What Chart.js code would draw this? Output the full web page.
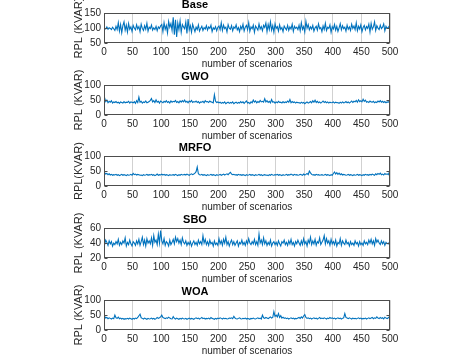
<!DOCTYPE html>
<html lang="en">
<head>
  <meta charset="UTF-8">
  <title>RPL per scenario</title>
  <script src="https://cdn.jsdelivr.net/npm/chart.js"></script>
  <style>
    body { margin: 0; background: #fff; }
    #wrap { position: relative; width: 474px; height: 361px; overflow: hidden; }
    .panel { position: absolute; left: 0; }
  </style>
</head>
<body>
  <div id="wrap"></div>

  <script>
    // one sample read every 2 scenarios (1, 3, 5 ... 499)
    const scenarioStep = 2;

    const baseRpl = [
      100, 97, 104, 96, 101, 99, 95, 103, 98, 92,
      106, 95, 118, 90, 112, 84, 108, 121, 93, 110,
      87, 115, 96, 104, 89, 109, 100, 94, 111, 97,
      105, 88, 113, 99, 92, 108, 96, 116, 90, 103,
      98, 110, 93, 101, 95, 106, 91, 104, 99, 108,
      112, 88, 118, 96, 109, 84, 122, 103, 115, 92,
      136, 78, 128, 70, 117, 95, 124, 86, 112, 104,
      98, 120, 82, 130, 94, 108, 86, 113, 100, 88,
      103, 95, 111, 90, 99, 106, 92, 102, 97, 108,
      93, 104, 99, 110, 88, 101, 96, 105, 91, 103,
      107, 95, 118, 92, 110, 98, 103, 87, 112, 100,
      96, 108, 91, 104, 99, 111, 94, 102, 88, 106,
      97, 113, 90, 103, 109, 95, 118, 89, 104, 98,
      110, 86, 107, 100, 93, 114, 97, 105, 91, 109,
      102, 117, 88, 112, 95, 121, 93, 108, 86, 114,
      99, 105, 90, 111, 96, 102, 88, 107, 100, 94,
      109, 92, 104, 97, 113, 89, 106, 99, 103, 95,
      110, 91, 118, 96, 105, 87, 123, 100, 112, 94,
      104, 97, 109, 90, 101, 106, 93, 114, 98, 102,
      88, 107, 95, 116, 92, 103, 99, 111, 86, 105,
      97, 112, 93, 106, 89, 101, 115, 94, 108, 98,
      103, 90, 110, 96, 104, 92, 113, 99, 107, 95,
      118, 91, 106, 97, 111, 88, 102, 109, 94, 105,
      99, 113, 87, 116, 96, 104, 121, 92, 108, 100,
      95, 110, 98, 103, 114, 91, 106, 99, 102, 108
    ];

    const gwoRpl = [
      58, 45, 50, 41, 46, 43, 48, 40, 44, 42,
      45, 41, 43, 39, 44, 42, 40, 45, 41, 43,
      42, 46, 40, 44, 43, 41, 45, 39, 48, 42,
      60, 43, 46, 40, 44, 42, 47, 41, 43, 45,
      49, 55, 44, 48, 42, 51, 43, 46, 40, 47,
      44, 41, 46, 43, 48, 42, 45, 40, 47, 43,
      46, 44, 49, 42, 45, 41, 47, 43, 48, 44,
      50, 43, 46, 41, 47, 44, 49, 42, 45, 43,
      47, 42, 45, 40, 44, 43, 46, 41, 48, 44,
      45, 42, 47, 44, 43, 41, 68, 46, 42, 44,
      41, 43, 39, 42, 40, 44, 38, 41, 43, 39,
      42, 40, 44, 38, 41, 43, 39, 42, 40, 45,
      41, 44, 39, 43, 47, 40, 42, 38, 44, 41,
      50, 43, 47, 41, 45, 42, 49, 44, 46, 43,
      55, 44, 48, 42, 46, 41, 52, 43, 45, 40,
      44, 41, 46, 42, 43, 40, 45, 41, 44, 42,
      47, 43, 52, 41, 45, 42, 44, 40, 43, 41,
      42, 39, 43, 40, 42, 38, 41, 44, 40, 42,
      45, 41, 48, 43, 50, 42, 46, 41, 44, 40,
      43, 47, 42, 45, 41, 44, 40, 43, 41, 42,
      44, 40, 43, 41, 42, 39, 43, 40, 44, 41,
      42, 45, 41, 44, 40, 43, 47, 42, 46, 44,
      49, 43, 51, 45, 48, 44, 53, 46, 50, 43,
      45, 42, 47, 44, 43, 46, 41, 44, 42, 47,
      44, 48, 43, 46, 42, 45, 41, 44, 43, 46
    ];

    const mrfoRpl = [
      45, 40, 42, 38, 41, 37, 39, 36, 38, 37,
      39, 36, 38, 35, 37, 39, 36, 38, 37, 35,
      38, 36, 37, 39, 36, 42, 38, 40, 37, 39,
      38, 36, 37, 35, 38, 36, 37, 39, 36, 38,
      37, 39, 36, 38, 35, 37, 40, 36, 38, 37,
      40, 37, 39, 36, 38, 37, 35, 38, 36, 37,
      38, 36, 39, 37, 35, 38, 36, 39, 37, 38,
      39, 37, 40, 38, 36, 39, 41, 38, 40, 43,
      48, 64, 41, 38, 37, 39, 36, 38, 37, 35,
      38, 36, 37, 39, 36, 38, 37, 35, 38, 36,
      37, 39, 36, 38, 40, 37, 39, 41, 38, 42,
      46, 40, 38, 39, 37, 38, 36, 39, 37, 38,
      36, 38, 37, 35, 38, 36, 37, 39, 36, 38,
      37, 35, 38, 36, 37, 39, 36, 38, 35, 37,
      38, 36, 37, 35, 38, 36, 39, 37, 36, 38,
      37, 39, 36, 38, 37, 35, 38, 36, 37, 39,
      36, 38, 37, 40, 38, 36, 39, 37, 38, 36,
      37, 39, 38, 36, 40, 37, 39, 42, 38, 50,
      44, 39, 37, 38, 36, 39, 37, 38, 36, 37,
      38, 36, 37, 39, 36, 38, 37, 35, 38, 36,
      42, 47, 40, 45, 39, 43, 38, 41, 37, 39,
      38, 36, 37, 39, 36, 38, 37, 35, 38, 36,
      37, 39, 36, 38, 37, 35, 38, 36, 39, 37,
      38, 36, 39, 37, 40, 38, 36, 41, 38, 42,
      39, 43, 38, 40, 37, 42, 39, 41, 38, 47
    ];

    const sboRpl = [
      38, 44, 41, 37, 43, 39, 42, 36, 40, 38,
      42, 39, 45, 37, 41, 38, 43, 40, 47, 36,
      41, 38, 44, 39, 36, 42, 40, 37, 43, 39,
      45, 37, 42, 48, 38, 44, 36, 46, 40, 43,
      39, 47, 37, 50, 41, 44, 38, 52, 40, 57,
      43, 39, 46, 37, 42, 40, 36, 44, 38, 41,
      45, 39, 48, 42, 46, 40, 44, 38, 47, 41,
      39, 43, 37, 41, 38, 42, 36, 40, 43, 38,
      41, 37, 44, 39, 42, 38, 50, 40, 45, 38,
      42, 37, 44, 39, 41, 36, 43, 38, 40, 37,
      46, 39, 43, 37, 45, 40, 48, 38, 42, 36,
      41, 44, 38, 42, 37, 40, 43, 36, 41, 39,
      44, 38, 41, 37, 43, 39, 46, 40, 38, 42,
      39, 45, 38, 42, 37, 52, 40, 44, 38, 47,
      39, 43, 37, 41, 38, 44, 36, 40, 42, 38,
      41, 37, 43, 39, 36, 42, 40, 44, 38, 41,
      37, 43, 39, 45, 38, 41, 36, 42, 39, 44,
      40, 37, 43, 38, 46, 39, 42, 36, 44, 40,
      48, 38, 43, 39, 45, 37, 42, 40, 47, 38,
      41, 44, 50, 39, 46, 40, 43, 37, 45, 39,
      42, 38, 44, 36, 41, 39, 46, 37, 43, 40,
      38, 44, 39, 41, 36, 42, 38, 40, 37, 43,
      39, 41, 36, 42, 38, 40, 37, 43, 39, 41,
      38, 44, 40, 45, 39, 43, 37, 46, 41, 44,
      40, 38, 43, 39, 42, 37, 41, 39, 40, 38
    ];

    const woaRpl = [
      46, 40, 42, 38, 41, 39, 37, 40, 38, 50,
      41, 39, 43, 38, 40, 37, 39, 36, 38, 37,
      39, 37, 40, 38, 36, 39, 37, 40, 38, 42,
      48, 53, 41, 39, 37, 40, 38, 36, 39, 37,
      38, 40, 37, 39, 36, 38, 42, 39, 41, 44,
      50, 42, 40, 38, 41, 39, 43, 40, 38, 37,
      45, 39, 37, 40, 38, 36, 39, 37, 40, 38,
      37, 39, 36, 38, 40, 37, 39, 38, 36, 39,
      41, 38, 40, 37, 39, 42, 38, 40, 37, 39,
      38, 40, 37, 42, 39, 38, 36, 39, 37, 40,
      38, 41, 39, 37, 40, 38, 39, 37, 38, 40,
      39, 41, 38, 46, 40, 38, 37, 39, 41, 38,
      37, 39, 38, 40, 37, 39, 38, 36, 39, 38,
      40, 38, 37, 39, 41, 38, 40, 37, 50, 41,
      39, 42, 40, 38, 41, 44, 40, 42, 62, 46,
      50, 44, 55, 42, 48, 40, 43, 39, 41, 38,
      40, 37, 39, 41, 38, 40, 37, 39, 38, 40,
      42, 39, 44, 40, 47, 52, 42, 39, 41, 38,
      40, 37, 39, 41, 38, 40, 37, 39, 42, 38,
      40, 38, 41, 39, 37, 40, 38, 42, 39, 41,
      38, 40, 37, 39, 41, 38, 40, 37, 39, 41,
      55, 42, 40, 38, 41, 39, 37, 40, 38, 39,
      37, 39, 41, 38, 40, 37, 39, 38, 40, 37,
      39, 41, 38, 40, 42, 38, 41, 39, 44, 40,
      38, 42, 39, 41, 37, 43, 40, 38, 41, 45
    ];

    const panelTitles = ['Base', 'GWO', 'MRFO', 'SBO', 'WOA'];
    const panelSeries = [baseRpl, gwoRpl, mrfoRpl, sboRpl, woaRpl];
    const yTitles = ['RPL (KVAR)', 'RPL (KVAR)', 'RPL(KVAR)', 'RPL (KVAR)', 'RPL (KVAR)'];
    const yMins = [50, 0, 0, 20, 0];
    const yMaxs = [150, 100, 100, 60, 100];
    const ySteps = [50, 50, 50, 20, 50];
    const xLabel = 'number of scenarios';

    // where each panel's canvas sits on the page
    const panelTops = [-2, 70, 141, 213, 285];

    const fontFamily = '"Liberation Sans", Arial, sans-serif';
    const textColor = '#262626';

    // MATLAB style box round the plot, with small inward y ticks
    const boxPlugin = {
      id: 'box',
      afterDatasetsDraw(chart) {
        const { ctx, chartArea: a, scales: { y } } = chart;
        ctx.save();
        ctx.strokeStyle = '#4d4d4d';
        ctx.lineWidth = 1;
        const l = Math.round(a.left) + 0.5, r = Math.round(a.right) - 0.5;
        const t = Math.round(a.top) + 0.5, b = Math.round(a.bottom) - 0.5;
        ctx.strokeRect(l, t, r - l, b - t);
        ctx.beginPath();
        y.ticks.forEach(tk => {
          const py = Math.round(y.getPixelForValue(tk.value)) + 0.5;
          ctx.moveTo(l, py); ctx.lineTo(l + 3, py);
          ctx.moveTo(r, py); ctx.lineTo(r - 3, py);
        });
        ctx.stroke();
        ctx.restore();
      }
    };

    const wrap = document.getElementById('wrap');

    panelTitles.forEach((title, i) => {
      const canvas = document.createElement('canvas');
      canvas.className = 'panel';
      canvas.width = 474;
      canvas.height = 73;
      canvas.style.top = panelTops[i] + 'px';
      wrap.appendChild(canvas);

      const points = panelSeries[i].map((v, k) => ({ x: k * scenarioStep + 1, y: v }));

      new Chart(canvas.getContext('2d'), {
        type: 'line',
        data: {
          datasets: [{
            data: points,
            borderColor: '#0072BD',
            borderWidth: 1.1,
            pointRadius: 0,
            tension: 0,
            fill: false
          }]
        },
        options: {
          responsive: false,
          animation: false,
          devicePixelRatio: 1,
          layout: { padding: { left: 0, right: 84, top: 0, bottom: 0 } },
          plugins: {
            legend: { display: false },
            tooltip: { enabled: false },
            title: {
              display: true,
              text: title,
              color: '#000',
              font: { family: fontFamily, size: 11, weight: 'bold' },
              padding: { top: 0, bottom: 2 }
            }
          },
          scales: {
            x: {
              type: 'linear',
              min: 0,
              max: 500,
              afterFit: s => { s.height = 28; },
              ticks: {
                stepSize: 50,
                autoSkip: false,
                color: textColor,
                font: { family: fontFamily, size: 10 },
                padding: 3,
                maxRotation: 0
              },
              grid: { display: true, color: 'rgba(0,0,0,0.18)', drawTicks: false },
              border: { display: false },
              title: {
                display: true,
                text: xLabel,
                color: textColor,
                font: { family: fontFamily, size: 10 },
                padding: { top: 0, bottom: 1 }
              }
            },
            y: {
              min: yMins[i],
              max: yMaxs[i],
              afterFit: s => { s.width = 104; },
              ticks: {
                stepSize: ySteps[i],
                autoSkip: false,
                color: textColor,
                font: { family: fontFamily, size: 10 },
                padding: 3
              },
              grid: { display: false, drawTicks: false },
              border: { display: false },
              title: {
                display: true,
                text: yTitles[i],
                color: textColor,
                font: { family: fontFamily, size: 11 },
                padding: { top: 72, bottom: 0 }
              }
            }
          }
        },
        plugins: [boxPlugin]
      });
    });
  </script>
</body>
</html>
